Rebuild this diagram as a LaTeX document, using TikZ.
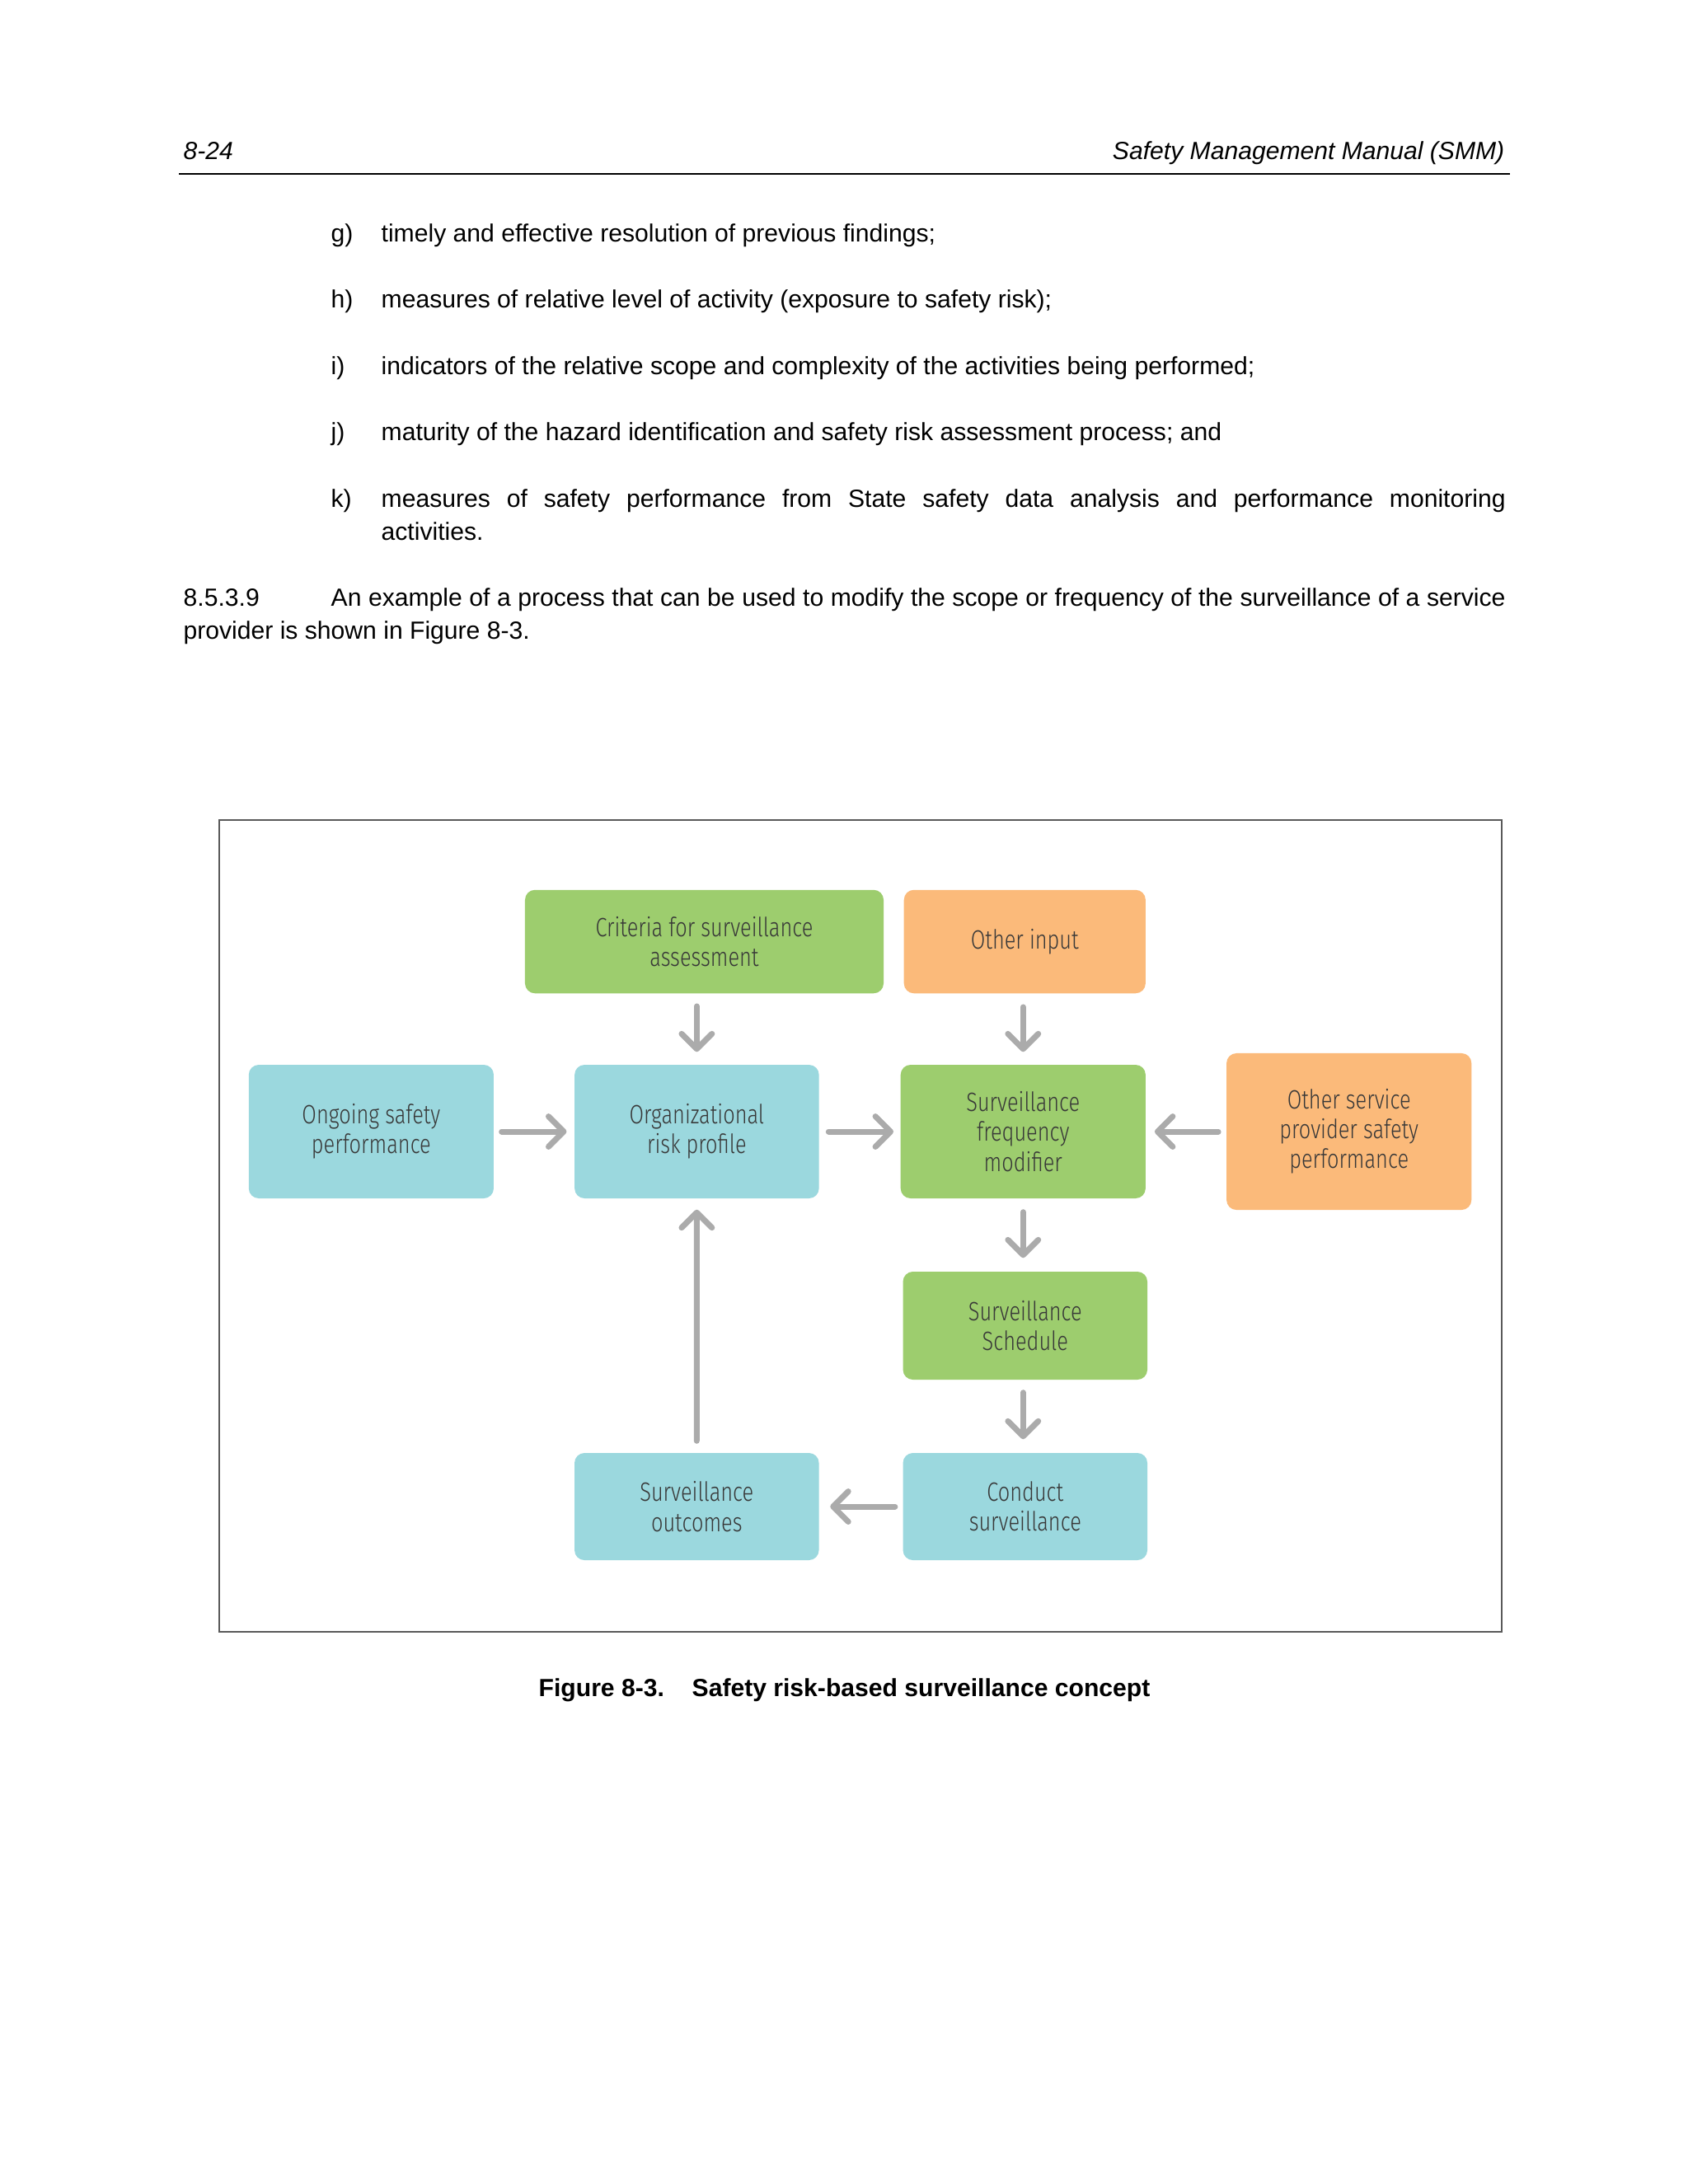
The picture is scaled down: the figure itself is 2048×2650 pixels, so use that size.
\documentclass[tikz,border=0pt]{standalone}
\usepackage{fontspec}
\setmainfont{Liberation Sans}
\newfontfamily\boxfont{Fira Sans Light}[FakeStretch=0.79]
\usetikzlibrary{arrows.meta}
\definecolor{boxgreen}{HTML}{9DCD6E}
\definecolor{boxorange}{HTML}{FBBA7A}
\definecolor{boxblue}{HTML}{9BD8DE}
\definecolor{arrgray}{HTML}{ABABAB}
\definecolor{boxtext}{HTML}{383838}
\begin{document}
\begin{tikzpicture}[x=0.29883pt,y=-0.29883pt,
  bodytext/.style={anchor=base west,inner sep=0pt,font=\fontsize{9}{12.1}\selectfont},
  fbox/.style={rounded corners=3.6pt,inner sep=0pt,align=center,text=boxtext,
    font=\boxfont\fontsize{9.6}{10.8}\selectfont},
  gbox/.style={fbox,fill=boxgreen},
  obox/.style={fbox,fill=boxorange},
  bbox/.style={fbox,fill=boxblue},
  arr/.style={draw=arrgray,line width=2.1pt,line cap=round,
    -{Straight Barb[length=5.5pt,width=11pt,round]}}]
\useasboundingbox (0,0) rectangle (2048,2650);
\fill[white] (0,0) rectangle (2048,2650);
% header
\node[bodytext] (hl) at (222,193) {\itshape 8-24};
\node[anchor=base east,inner sep=0pt,font=\fontsize{9}{12}\selectfont] (hr) at (1826,193) {\itshape Safety Management Manual (SMM)};
\draw[line width=0.65pt] (217,211) coordinate (rl) -- (1832,211) coordinate (rr);
% list
\node[bodytext] (lg) at (401,293) {g)};
\node[bodytext] (tg) at (462,293) {timely and effective resolution of previous findings;};
\node[bodytext] (lh) at (401,373) {h)};
\node[bodytext] (th) at (462,373) {measures of relative level of activity (exposure to safety risk);};
\node[bodytext] (li) at (401,454) {i)};
\node[bodytext] (ti) at (462,454) {indicators of the relative scope and complexity of the activities being performed;};
\node[bodytext] (lj) at (401,534) {j)};
\node[bodytext] (tj) at (462,534) {maturity of the hazard identification and safety risk assessment process; and};
\node[bodytext] (lk) at (401,615) {k)};
\node[bodytext,text width=407.6pt,align=justify] (tk) at (462,615) {measures of safety performance from State safety data analysis and performance monitoring\linebreak activities.};
\node[bodytext,text width=479.3pt,align=justify] (para) at (222,735) {\noindent\makebox[53.5pt][l]{8.5.3.9}An example of a process that can be used to modify the scope or frequency of the surveillance of a service provider is shown in Figure 8-3.};
% frame
\draw[draw=black!65,line width=0.6pt] (266,995) rectangle (1822,1980);
% boxes
\node[gbox,minimum width=130.0pt,minimum height=37.5pt] (crit) at (854.5,1142.5) {Criteria for surveillance\\assessment};
\node[obox,minimum width=87.6pt,minimum height=37.5pt] (oin) at (1243.3,1142.5) {Other input};
\node[bbox,minimum width=88.8pt,minimum height=48.41pt] (ong) at (450.4,1373) {Ongoing safety\\performance};
\node[bbox,minimum width=88.6pt,minimum height=48.41pt] (org) at (845.4,1373) {Organizational\\risk profile};
\node[gbox,minimum width=88.8pt,minimum height=48.41pt] (sfm) at (1241.3,1373) {Surveillance\\frequency\\modifier};
\node[obox,minimum width=88.8pt,minimum height=56.8pt] (osp) at (1636.7,1373) {Other service\\provider safety\\performance};
\node[gbox,minimum width=88.6pt,minimum height=39.15pt] (sch) at (1243.8,1608.5) {Surveillance\\Schedule};
\node[bbox,minimum width=88.6pt,minimum height=38.85pt] (out) at (845.3,1828) {Surveillance\\outcomes};
\node[bbox,minimum width=88.6pt,minimum height=38.85pt] (con) at (1243.8,1828) {Conduct\\surveillance};
% arrows
\draw[arr,shorten <=4.5pt,shorten >=4.5pt] (org.north |- crit.south) -- (org.north);
\draw[arr,shorten <=4.8pt,shorten >=4.5pt] (sfm.north |- oin.south) -- (sfm.north);
\draw[arr,shorten <=2.7pt,shorten >=2.7pt] (ong.east) -- (org.west);
\draw[arr,shorten <=3.3pt,shorten >=2.4pt] (org.east) -- (sfm.west);
\draw[arr,shorten <=2.8pt,shorten >=3.1pt] (osp.west |- sfm.east) -- (sfm.east);
\draw[arr,shorten <=4.8pt,shorten >=4.8pt] (sfm.south) -- (sch.north -| sfm.south);
\draw[arr,shorten <=4.5pt,shorten >=4.8pt] (sch.south -| sfm.south) -- (con.north -| sfm.south);
\draw[arr,shorten <=2.7pt,shorten >=3.9pt] (con.west) -- (out.east);
\draw[arr,shorten <=4.2pt,shorten >=3.9pt] (out.north) -- (org.south);
% caption
\node[anchor=base west,inner sep=0pt,font=\bfseries\fontsize{9}{12}\selectfont] (cap1) at (653,2058) {Figure 8-3.};
\node[anchor=base west,inner sep=0pt,font=\bfseries\fontsize{9}{12}\selectfont] (cap2) at (839,2058) {Safety risk-based surveillance concept};
\end{tikzpicture}
\end{document}
